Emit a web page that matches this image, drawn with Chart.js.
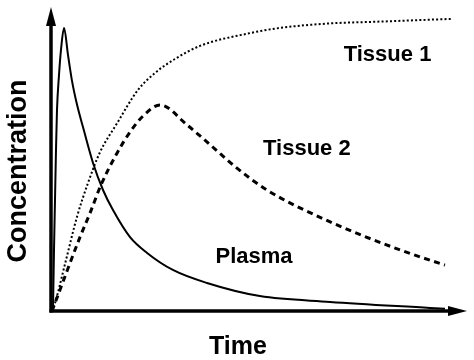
<!DOCTYPE html>
<html>
<head>
<meta charset="utf-8">
<script src="https://cdn.jsdelivr.net/npm/chart.js@4"></script>
<style>
html,body{margin:0;padding:0;background:#fff;}
#wrap{width:474px;height:360px;position:relative;}
</style>
</head>
<body>
<div id="wrap"><canvas id="c" width="474" height="360"></canvas></div>
<script>
// Time (0-100, arbitrary units) and concentration (0-100, arbitrary units)
const plasmaTime = [0.48, 0.72, 0.96, 1.2, 1.44, 1.92, 2.4, 3.13, 4.09, 5.05, 6.25, 7.69, 10.1, 12.5, 14.9, 19.0, 23.1, 29.3, 37.5, 50.2, 67.1, 91.1, 94.7];
const plasmaConc = [0, 20.1, 36.5, 53.0, 66.1, 77.6, 85.9, 93.1, 84.2, 75.7, 67.9, 60.5, 48.7, 39.8, 33.2, 24.3, 19.1, 13.5, 9.2, 4.9, 3.0, 1.0, 0.7];

const tissue1Time = [0.24, 0.96, 3.61, 6.25, 8.89, 11.8, 15.9, 20.9, 25.0, 29.8, 35.8, 47.8, 55.0, 67.1, 79.1, 96.4];
const tissue1Conc = [0, 2.6, 16.8, 31.0, 42.1, 52.3, 61.8, 72.7, 78.3, 82.9, 87.2, 91.4, 93.1, 94.6, 95.2, 96.1];

const tissue2Time = [0.24, 0.96, 6.97, 9.38, 12.0, 15.9, 19.0, 22.1, 26.2, 32.7, 38.9, 44.7, 51.9, 67.8, 83.9, 94.7];
const tissue2Conc = [0, 2.6, 24.3, 32.2, 41.4, 52.0, 58.9, 64.1, 67.8, 61.2, 53.9, 47.0, 39.8, 28.9, 20.1, 15.1];

const curveLabels = ['Tissue 1', 'Tissue 2', 'Plasma'];
const labelTime = [80.9, 61.5, 48.8];
const labelConc = [82.2, 51.3, 15.8];

const xTitle = 'Time';
const yTitle = 'Concentration';

function pts(t, c){ return t.map((v,i)=>({x:v, y:c[i]})); }

const FONT = '"Liberation Sans", Arial, Helvetica, sans-serif';

const decor = {
  id:'decor',
  afterDatasetsDraw(chart){
    const ctx = chart.ctx, a = chart.chartArea;
    const xs = chart.scales.x, ys = chart.scales.y;
    const ox = a.left, oy = a.bottom;
    ctx.save();
    ctx.strokeStyle = '#000'; ctx.fillStyle = '#000';
    ctx.lineWidth = 3.5; ctx.lineCap = 'butt';
    // y axis
    ctx.beginPath(); ctx.moveTo(ox, oy+1.5); ctx.lineTo(ox, a.top+14); ctx.stroke();
    ctx.beginPath(); ctx.moveTo(ox, a.top); ctx.lineTo(ox-5, a.top+19); ctx.lineTo(ox+5, a.top+19); ctx.closePath(); ctx.fill();
    // x axis
    ctx.beginPath(); ctx.moveTo(ox-1.5, oy); ctx.lineTo(a.right-14, oy); ctx.stroke();
    ctx.beginPath(); ctx.moveTo(a.right, oy); ctx.lineTo(a.right-19, oy-5); ctx.lineTo(a.right-19, oy+5); ctx.closePath(); ctx.fill();
    // curve labels
    ctx.font = 'bold 22px ' + FONT;
    ctx.textAlign = 'center'; ctx.textBaseline = 'alphabetic';
    curveLabels.forEach((s,i)=>{
      ctx.fillText(s, xs.getPixelForValue(labelTime[i]), ys.getPixelForValue(labelConc[i]));
    });
    // axis titles
    ctx.font = 'bold 25px ' + FONT;
    ctx.fillText(xTitle, 238, 354);
    ctx.save();
    ctx.translate(26, 171);
    ctx.rotate(-Math.PI/2);
    ctx.font = 'bold 27px ' + FONT;
    ctx.fillText(yTitle, 0, 0);
    ctx.restore();
    ctx.restore();
  }
};

new Chart(document.getElementById('c'), {
  type:'line',
  data:{
    datasets:[
      {label:'Plasma', data:pts(plasmaTime, plasmaConc), borderColor:'#000', borderWidth:2, pointRadius:0, cubicInterpolationMode:'monotone', fill:false},
      {label:'Tissue 1', data:pts(tissue1Time, tissue1Conc), borderColor:'#000', borderWidth:2, borderDash:[2,2.2], pointRadius:0, cubicInterpolationMode:'monotone', fill:false},
      {label:'Tissue 2', data:pts(tissue2Time, tissue2Conc), borderColor:'#000', borderWidth:3, borderDash:[6,4.5], pointRadius:0, cubicInterpolationMode:'monotone', fill:false}
    ]
  },
  options:{
    responsive:false, animation:false,
    layout:{padding:{left:51, right:7, top:7, bottom:49}},
    plugins:{legend:{display:false}, tooltip:{enabled:false}},
    scales:{
      x:{type:'linear', min:0, max:100, display:false},
      y:{type:'linear', min:0, max:100, display:false}
    }
  },
  plugins:[decor]
});
</script>
</body>
</html>
